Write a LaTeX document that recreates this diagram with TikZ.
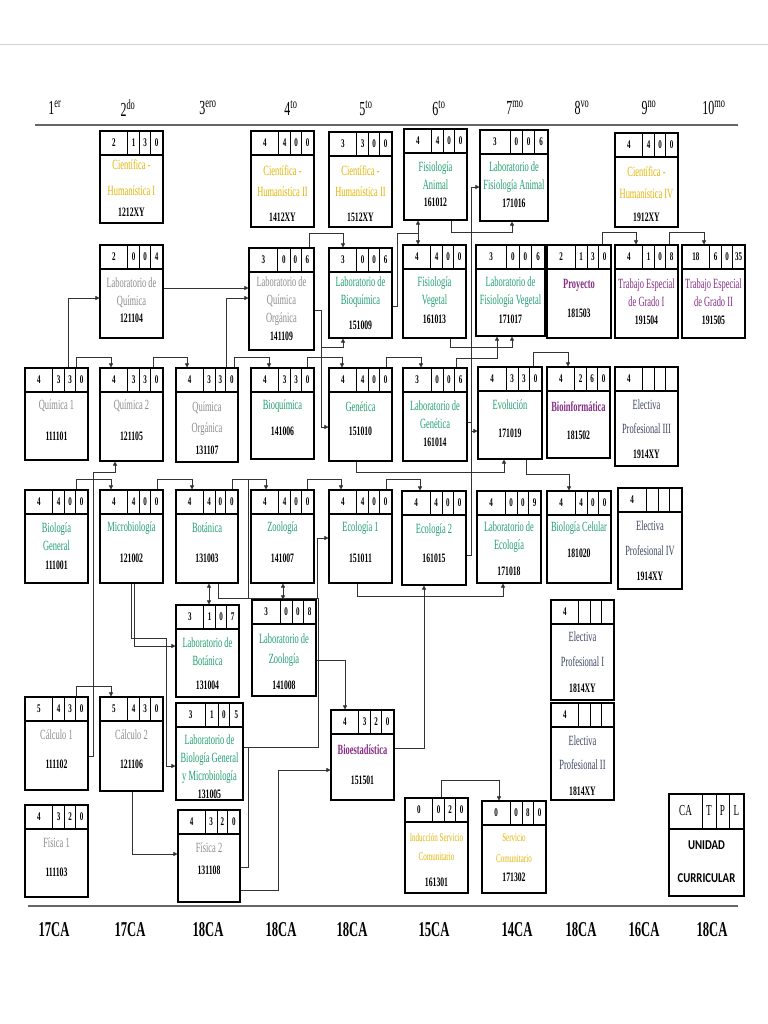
\documentclass[tikz,border=0pt]{standalone}
\usepackage{fontspec}
\setmainfont{Liberation Serif}[FakeStretch=0.6]
\newfontfamily\legfont{Carlito}[FakeStretch=0.8]
\usetikzlibrary{arrows.meta,fit}
\definecolor{UCGray}{HTML}{8C8C8C}
\definecolor{UCGreen}{HTML}{20A070}
\definecolor{UCPurple}{HTML}{862D86}
\definecolor{UCYellow}{HTML}{E3B505}
\definecolor{UCSlate}{HTML}{3B4663}
\definecolor{UCLine}{HTML}{333333}

\tikzset{
  ucbox/.style={draw, line width=0.9pt, inner sep=0pt},
  hdrline/.style={line width=1.6pt},
  cellline/.style={line width=0.7pt},
  dig/.style={font=\fontsize{10}{11}\selectfont\bfseries, inner sep=0pt},
  nm/.style={align=center, font=\fontsize{12}{15.3}\selectfont, inner sep=0pt},
  cd/.style={font=\fontsize{11}{12}\selectfont\bfseries, inner sep=0pt},
  sem/.style={font=\fontsize{17}{19}\selectfont, inner sep=0pt},
  cred/.style={font=\fontsize{18}{20}\selectfont\bfseries, inner sep=0pt},
  wire/.style={draw=UCLine, line width=0.6pt},
  link/.style={wire, -{Triangle[length=3.5pt,width=3.5pt]}},
  linkboth/.style={wire, {Triangle[length=3.5pt,width=3.5pt]}-{Triangle[length=3.5pt,width=3.5pt]}}
}

% box: name, x1, y1, x2, y2, CA, T, P, L
\newcommand{\uc}[9]{%
  \node[ucbox, fit={(#2,#3) (#4,#5)}] (#1) {};
  \draw[hdrline] (#2,#3+24) -- (#4,#3+24);
  \foreach \fr in {0.44,0.63,0.80}
    \draw[cellline] ({#2+\fr*(#4-#2)},#3) -- ({#2+\fr*(#4-#2)},#3+24);
  \node[dig] (#1-ca) at ({#2+0.22*(#4-#2)},#3+12) {#6};
  \node[dig] (#1-t) at ({#2+0.535*(#4-#2)},#3+12) {#7};
  \node[dig] (#1-p) at ({#2+0.715*(#4-#2)},#3+12) {#8};
  \node[dig] (#1-l) at ({#2+0.90*(#4-#2)},#3+12) {#9};
}
\newcommand{\ucn}[4]{\node[nm, text=#2] (#1-n) at (#1.north |- 0,#3) {#4};}
\newcommand{\ucc}[3]{\node[cd] (#1-c) at (#1.north |- 0,#2) {#3};}

\begin{document}
\begin{tikzpicture}[x=0.03cm,y=-0.03cm]
\path[use as bounding box] (0,0) rectangle (768,1024);
\fill[white] (0,0) rectangle (768,1024);
\draw[gray!35, line width=0.8pt] (0,44) -- (768,44);
\draw[gray!80!black, line width=1.2pt] (35,125) -- (738,125);
\draw[gray!80!black, line width=1.2pt] (28,906) -- (738,906);

% semesters
\node[sem] (s1) at (55,108) {1\textsuperscript{er}};
\node[sem] (s2) at (128,108) {2\textsuperscript{do}};
\node[sem] (s3) at (208,108) {3\textsuperscript{ero}};
\node[sem] (s4) at (291,108) {4\textsuperscript{to}};
\node[sem] (s5) at (366,108) {5\textsuperscript{to}};
\node[sem] (s6) at (439,108) {6\textsuperscript{to}};
\node[sem] (s7) at (515,108) {7\textsuperscript{mo}};
\node[sem] (s8) at (582,108) {8\textsuperscript{vo}};
\node[sem] (s9) at (649,108) {9\textsuperscript{no}};
\node[sem] (s10) at (714,108) {10\textsuperscript{mo}};

% credits
\node[cred] (c1) at (54,930) {17CA};
\node[cred] (c2) at (130,930) {17CA};
\node[cred] (c3) at (208,930) {18CA};
\node[cred] (c4) at (281,930) {18CA};
\node[cred] (c5) at (352,930) {18CA};
\node[cred] (c6) at (434,930) {15CA};
\node[cred] (c7) at (517,930) {14CA};
\node[cred] (c8) at (581,930) {18CA};
\node[cred] (c9) at (644,930) {16CA};
\node[cred] (c10) at (712,930) {18CA};

% row 1
\uc{ch1}{100}{131}{163}{223}{2}{1}{3}{0}
\ucn{ch1}{UCYellow}{178}{Científica -\\[7pt]Humanística I}
\ucc{ch1}{212}{1212XY}
\uc{ch2}{251}{131}{314}{227}{4}{4}{0}{0}
\ucn{ch2}{UCYellow}{181}{Científica -\\[3pt]Humanística II}
\ucc{ch2}{217}{1412XY}
\uc{ch3}{329}{132}{392}{227}{3}{3}{0}{0}
\ucn{ch3}{UCYellow}{181}{Científica -\\[3pt]Humanística II}
\ucc{ch3}{217}{1512XY}
\uc{fa}{404}{129}{467}{220}{4}{4}{0}{0}
\ucn{fa}{UCGreen}{176}{Fisiología\\Animal}
\ucc{fa}{202}{161012}
\uc{lfa}{480}{130}{548}{221}{3}{0}{0}{6}
\ucn{lfa}{UCGreen}{177.5}{Laboratorio de\\Fisiología Animal}
\ucc{lfa}{203}{171016}
\uc{ch4}{615}{133}{678}{227}{4}{4}{0}{0}
\ucn{ch4}{UCYellow}{182.5}{Científica -\\[3pt]Humanística IV}
\ucc{ch4}{217}{1912XY}

% row 2
\uc{lq}{100}{245}{163}{338}{2}{0}{0}{4}
\ucn{lq}{UCGray}{292.5}{Laboratorio de\\Química}
\ucc{lq}{318}{121104}
\uc{lqo}{249}{248}{314}{350}{3}{0}{0}{6}
\ucn{lqo}{UCGray}{301.5}{Laboratorio de\\Química\\Orgánica}
\ucc{lqo}{336}{141109}
\uc{lbq}{329}{248}{392}{338}{3}{0}{0}{6}
\ucn{lbq}{UCGreen}{292.5}{Laboratorio de\\Bioquímica}
\ucc{lbq}{325}{151009}
\uc{fv}{403}{245}{466}{338}{4}{4}{0}{0}
\ucn{fv}{UCGreen}{292}{Fisiología\\Vegetal}
\ucc{fv}{319}{161013}
\uc{lfv}{476}{245}{545}{336}{3}{0}{0}{6}
\ucn{lfv}{UCGreen}{292}{Laboratorio de\\Fisiología Vegetal}
\ucc{lfv}{319}{171017}
\uc{proy}{547}{245}{611}{338}{2}{1}{3}{0}
\ucn{proy}{UCPurple}{285}{\bfseries Proyecto}
\ucc{proy}{313}{181503}
\uc{teg1}{615}{245}{678}{338}{4}{1}{0}{8}
\ucn{teg1}{UCPurple}{292.5}{Trabajo Especial\\de Grado I}
\ucc{teg1}{320}{191504}
\uc{teg2}{682}{245}{745}{338}{18}{6}{0}{35}
\ucn{teg2}{UCPurple}{292.5}{Trabajo Especial\\de Grado II}
\ucc{teg2}{320}{191505}

% row 3
\uc{q1}{25}{368}{88}{460}{4}{3}{3}{0}
\ucn{q1}{UCGray}{406}{Química 1}
\ucc{q1}{436}{111101}
\uc{q2}{100}{368}{163}{461}{4}{3}{3}{0}
\ucn{q2}{UCGray}{406}{Química 2}
\ucc{q2}{436}{121105}
\uc{qo}{176}{368}{238}{462}{4}{3}{3}{0}
\ucn{qo}{UCGray}{418.5}{Química\\[2pt]Orgánica}
\ucc{qo}{450}{131107}
\uc{bq}{251}{368}{314}{459}{4}{3}{3}{0}
\ucn{bq}{UCGreen}{406}{Bioquímica}
\ucc{bq}{431}{141006}
\uc{gen}{329}{368}{392}{461}{4}{4}{0}{0}
\ucn{gen}{UCGreen}{407}{Genética}
\ucc{gen}{431}{151010}
\uc{lgen}{403}{368}{467}{461}{3}{0}{0}{6}
\ucn{lgen}{UCGreen}{415}{Laboratorio de\\Genética}
\ucc{lgen}{442}{161014}
\uc{evo}{478}{367}{542}{459}{4}{3}{3}{0}
\ucn{evo}{UCGreen}{405}{Evolución}
\ucc{evo}{433}{171019}
\uc{binf}{547}{367}{610}{458}{4}{2}{6}{0}
\ucn{binf}{UCPurple}{407}{\bfseries Bioinformática}
\ucc{binf}{435}{181502}
\uc{ep3}{615}{367}{678}{466}{4}{}{}{}
\ucn{ep3}{UCSlate}{417}{Electiva\\[5pt]Profesional III}
\ucc{ep3}{454}{1914XY}

% row 4
\uc{bg}{25}{490}{88}{583}{4}{4}{0}{0}
\ucn{bg}{UCGreen}{537}{Biología\\General}
\ucc{bg}{565}{111001}
\uc{micro}{100}{490}{163}{583}{4}{4}{0}{0}
\ucn{micro}{UCGreen}{528}{Microbiología}
\ucc{micro}{558}{121002}
\uc{bot}{176}{490}{238}{583}{4}{4}{0}{0}
\ucn{bot}{UCGreen}{528}{Botánica}
\ucc{bot}{558}{131003}
\uc{zoo}{251}{490}{314}{583}{4}{4}{0}{0}
\ucn{zoo}{UCGreen}{528}{Zoología}
\ucc{zoo}{558}{141007}
\uc{eco1}{329}{490}{392}{583}{4}{4}{0}{0}
\ucn{eco1}{UCGreen}{528}{Ecología 1}
\ucc{eco1}{558}{151011}
\uc{eco2}{402}{491}{466}{585}{4}{4}{0}{0}
\ucn{eco2}{UCGreen}{530}{Ecología 2}
\ucc{eco2}{558}{161015}
\uc{leco}{477}{491}{541}{583}{4}{0}{0}{9}
\ucn{leco}{UCGreen}{537}{Laboratorio de\\Ecología}
\ucc{leco}{571}{171018}
\uc{bcel}{547}{491}{611}{583}{4}{4}{0}{0}
\ucn{bcel}{UCGreen}{528}{Biología Celular}
\ucc{bcel}{553}{181020}
\uc{ep4}{618}{488}{682}{589}{4}{}{}{}
\ucn{ep4}{UCSlate}{538.5}{Electiva\\[6pt]Profesional IV}
\ucc{ep4}{576}{1914XY}

% row 5
\uc{lbot}{176}{605}{239}{697}{3}{1}{0}{7}
\ucn{lbot}{UCGreen}{652}{Laboratorio de\\Botánica}
\ucc{lbot}{685}{131004}
\uc{lzoo}{252}{600}{316}{696}{3}{0}{0}{8}
\ucn{lzoo}{UCGreen}{650}{Laboratorio de\\[2pt]Zoología}
\ucc{lzoo}{685}{141008}
\uc{ep1}{551}{600}{614}{700}{4}{}{}{}
\ucn{ep1}{UCSlate}{649.5}{Electiva\\[6pt]Profesional I}
\ucc{ep1}{688}{1814XY}

% row 6
\uc{cal1}{25}{697}{88}{790}{5}{4}{3}{0}
\ucn{cal1}{UCGray}{735}{Cálculo 1}
\ucc{cal1}{764}{111102}
\uc{cal2}{100}{697}{163}{791}{5}{4}{3}{0}
\ucn{cal2}{UCGray}{735}{Cálculo 2}
\ucc{cal2}{764}{121106}
\uc{lbgm}{176}{703}{243}{800}{3}{1}{0}{5}
\ucn{lbgm}{UCGreen}{759}{Laboratorio de\\Biología General\\y Microbiología}
\ucc{lbgm}{794}{131005}
\uc{best}{331}{710}{394}{800}{4}{3}{2}{0}
\ucn{best}{UCPurple}{750}{\bfseries Bioestadística}
\ucc{best}{780}{151501}
\uc{ep2}{551}{703}{614}{800}{4}{}{}{}
\ucn{ep2}{UCSlate}{753}{Electiva\\[5pt]Profesional II}
\ucc{ep2}{791}{1814XY}

% row 7
\uc{fis1}{25}{805}{88}{897}{4}{3}{2}{0}
\ucn{fis1}{UCGray}{843}{Física 1}
\ucc{fis1}{872}{111103}
\uc{fis2}{178}{810}{240}{902}{4}{3}{2}{0}
\ucn{fis2}{UCGray}{848}{Física 2}
\ucc{fis2}{870}{131108}
\uc{isc}{405}{798}{468}{893}{0}{0}{2}{0}
\node[nm, text=UCYellow, font=\fontsize{10}{17}\selectfont] (isc-n) at (isc.north |- 0,847) {Inducción Servicio\\Comunitario};
\ucc{isc}{882}{161301}
\uc{sc}{482}{801}{546}{893}{0}{0}{8}{0}
\node[nm, text=UCYellow, font=\fontsize{10}{18}\selectfont] (sc-n) at (sc.north |- 0,848.5) {Servicio\\Comunitario};
\ucc{sc}{877}{171302}

% legend
\node[ucbox, fit={(669,794) (744,896)}] (ley) {};
\draw[hdrline] (669,829) -- (744,829);
\foreach \lx in {702,716,729}
  \draw[cellline] (\lx,794) -- (\lx,829);
\node[font=\fontsize{13}{15}\selectfont] (ley-ca) at (685.5,811) {CA};
\node[font=\fontsize{13}{15}\selectfont] (ley-t) at (709,811) {T};
\node[font=\fontsize{13}{15}\selectfont] (ley-p) at (722.5,811) {P};
\node[font=\fontsize{13}{15}\selectfont] (ley-l) at (736.5,811) {L};
\node[align=center, font=\legfont\bfseries\fontsize{11.5}{28}\selectfont] (ley-n) at (706.5,861.5) {UNIDAD\\CURRICULAR};

% prelaciones
\draw[link] (q1.north -| 68,0) |- (lq.west |- 0,298);
\draw[link] (q1.north -| 76,0) |- (111,357) -- (q2.north -| 111,0);
\draw[link] (lq.east |- 0,288) -- (lqo.west |- 0,288);
\draw[link] (qo.north -| 226,0) |- (lqo.west |- 0,298);
\draw[link] (q2.north -| 153,0) |- (187,357) -- (qo.north -| 187,0);
\draw[link] (qo.north -| 234,0) |- (269,357) -- (bq.north -| 269,0);
\draw[link] (lqo.north -| 309,0) |- (343,233) -- (lbq.north -| 343,0);
\draw[link] (bq.north -| 307,0) |- (342,357) -- (gen.north -| 342,0);
\draw[link] (lqo.east |- 0,310) -| (321,427) -- (gen.west |- 0,427);
\draw[link] (321,347) -| (lbq.south -| 343,0);
\draw[link] (lbq.east |- 0,306) -| (397,233) -- (418,233) -- (fa.south -| 418,0);
\draw[link] (418,233) -- (fv.north -| 418,0);
\draw[link] (gen.north -| 386,0) |- (421,357) -- (lgen.north -| 421,0);
\draw[link] (lgen.north -| 456,0) |- (497,358) -- (lfv.south -| 497,0);
\draw[link] (fv.south -| 450,0) |- (512,347) -- (lfv.south -| 512,0);
\draw[link] (fa.south -| 451,0) |- (512,232) -- (lfa.south -| 512,0);
\draw[link] (eco2.east |- 0,555) -| (471,187) -- (lfa.west |- 0,187);
\draw[link] (471,431) -- (evo.west |- 0,431);
\draw[wire] (lgen.east |- 0,422) -- (471,422);
\draw[link] (gen.south -| 356,0) |- (504,472) -- (evo.south -| 504,0);
\draw[link] (evo.south -| 526,0) |- (569,474) -- (bcel.north -| 569,0);
\draw[link] (evo.north -| 533,0) |- (568,352) -- (binf.north -| 568,0);
\draw[link] (proy.north -| 602,0) |- (636,232) -- (teg1.north -| 636,0);
\draw[link] (teg1.north -| 669,0) |- (704,232) -- (teg2.north -| 704,0);
\draw[link] (bg.north -| 76,0) |- (111,479) -- (micro.north -| 111,0);
\draw[link] (cal1.east |- 0,756) -| (93,472) -| (q2.south -| 115,0);
\draw[link] (micro.north -| 157,0) |- (192,479) -- (bot.north -| 192,0);
\draw[link] (bot.north -| 232,0) |- (266,479) -- (zoo.north -| 266,0);
\draw[wire] (248,479) -- (248,598);
\draw[link] (zoo.north -| 307,0) |- (341,479) -- (eco1.north -| 341,0);
\draw[link] (eco1.north -| 386,0) |- (420,479) -- (eco2.north -| 420,0);
\draw[linkboth] (bot.south -| 209,0) -- (lbot.north -| 209,0);
\draw[linkboth] (zoo.south -| 283,0) -- (lzoo.north -| 283,0);
\draw[link] (bot.south -| 218,0) |- (317,598) |- (eco1.west |- 0,538);
\draw[link] (eco1.south -| 357,0) |- (503,596) -- (leco.south -| 503,0);
\draw[link] (best.east |- 0,748) -| (eco2.south -| 424,0);
\draw[link] (micro.south -| 134,0) |- (lbot.west |- 0,646);
\draw[link] (micro.south -| 131,0) |- (166,638) |- (lbgm.west |- 0,766);
\draw[link] (cal1.north -| 76,0) |- (111,686) -- (cal2.north -| 111,0);
\draw[link] (lzoo.east |- 0,660) -| (best.north -| 345,0);
\draw[wire] (lbgm.east |- 0,747) -| (318,598);
\draw[link] (fis2.east |- 0,890) -| (278,770) -- (best.west |- 0,770);
\draw[wire] (fis2.east |- 0,867) -| (248,747);
\draw[link] (cal2.south -| 132,0) |- (fis2.west |- 0,854);
\draw[link] (isc.north -| 441,0) |- (499,780) -- (sc.north -| 499,0);
\end{tikzpicture}
\end{document}
